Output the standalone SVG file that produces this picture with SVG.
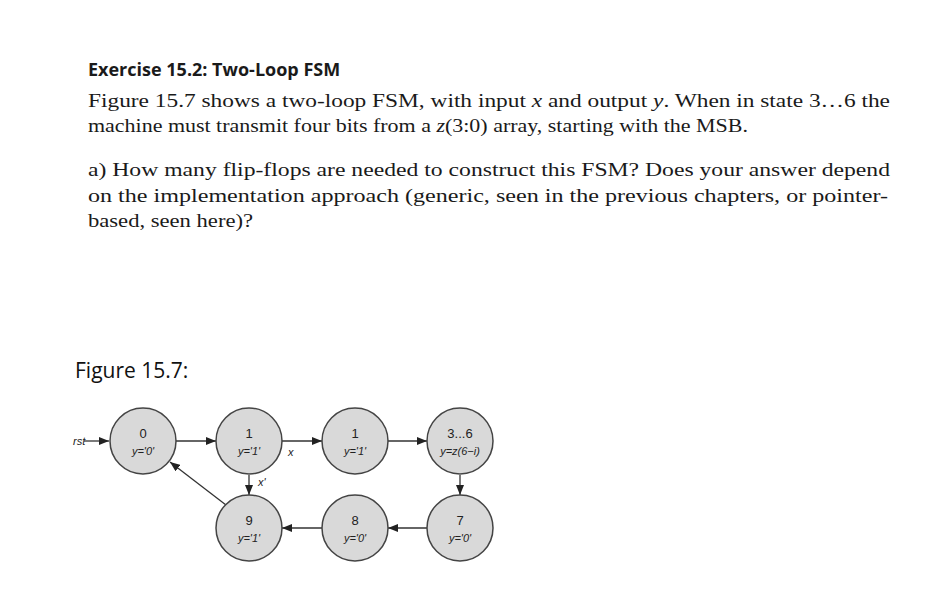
<svg xmlns="http://www.w3.org/2000/svg" width="942" height="592" viewBox="0 0 942 592">
<style>
.p{font-family:"Liberation Serif",serif;font-size:19px;fill:#1a1a1a}
.n circle{fill:#d9d9d9;stroke:#444;stroke-width:1.5}
.n text{font-family:"Liberation Sans",Arial,sans-serif;text-anchor:middle;fill:#222}
.num{font-size:13px}
.out{font-size:11px;font-style:italic}
.c line{stroke:#333;stroke-width:1.3;marker-end:url(#a)}
.lbl{font-family:"Liberation Sans",Arial,sans-serif;font-size:11px;font-style:italic;fill:#222}
</style>
<defs><marker id="a" markerWidth="10" markerHeight="8" refX="10" refY="4" orient="auto" markerUnits="userSpaceOnUse"><path d="M0,0L10,4L0,8z" fill="#222"/></marker></defs>
<rect width="942" height="592" fill="#fff"/>
<text x="88" y="76" font-family="Open Sans,Liberation Sans,sans-serif" font-weight="bold" font-size="18" fill="#1a1a1a">Exercise 15.2: Two-Loop FSM</text>
<text class="p" x="88" y="107" textLength="802" lengthAdjust="spacingAndGlyphs">Figure 15.7 shows a two-loop FSM, with input <tspan font-style="italic">x</tspan> and output <tspan font-style="italic">y</tspan>. When in state 3…6 the</text>
<text class="p" x="88" y="132" textLength="660" lengthAdjust="spacingAndGlyphs">machine must transmit four bits from a <tspan font-style="italic">z</tspan>(3:0) array, starting with the MSB.</text>
<text class="p" x="88" y="176" textLength="802" lengthAdjust="spacingAndGlyphs">a) How many flip-flops are needed to construct this FSM? Does your answer depend</text>
<text class="p" x="88" y="202" textLength="800" lengthAdjust="spacingAndGlyphs">on the implementation approach (generic, seen in the previous chapters, or pointer-</text>
<text class="p" x="88" y="227" textLength="165" lengthAdjust="spacingAndGlyphs">based, seen here)?</text>
<text x="75" y="378" font-family="Open Sans,Liberation Sans,sans-serif" font-size="21" fill="#111">Figure 15.7:</text>
<g class="c">
<line x1="84" y1="441" x2="109" y2="441"/>
<line x1="176" y1="441" x2="216" y2="441"/>
<line x1="282" y1="441" x2="322" y2="441"/>
<line x1="388" y1="441" x2="427" y2="441"/>
<line x1="249" y1="475" x2="249" y2="495"/>
<line x1="460" y1="475" x2="460" y2="495"/>
<line x1="427" y1="528" x2="388" y2="528"/>
<line x1="322" y1="528" x2="282" y2="528"/>
<line x1="226" y1="505" x2="170" y2="462"/>
<text class="lbl" x="73" y="445">rst</text>
<text class="lbl" x="288" y="456">x</text>
<text class="lbl" x="258" y="486">x'</text>
</g>
<g id="s0" class="n"><circle cx="143" cy="441" r="33"/><text class="num" x="143" y="438">0</text><text class="out" x="143" y="455">y='0'</text></g>
<g id="s1" class="n"><circle cx="249" cy="441" r="33"/><text class="num" x="249" y="438">1</text><text class="out" x="249" y="455">y='1'</text></g>
<g id="s2" class="n"><circle cx="355" cy="441" r="33"/><text class="num" x="355" y="438">1</text><text class="out" x="355" y="455">y='1'</text></g>
<g id="s3" class="n"><circle cx="460" cy="441" r="33"/><text class="num" x="460" y="438">3...6</text><text class="out" x="460" y="455">y=z(6−i)</text></g>
<g id="s9" class="n"><circle cx="249" cy="528" r="33"/><text class="num" x="249" y="525">9</text><text class="out" x="249" y="542">y='1'</text></g>
<g id="s8" class="n"><circle cx="355" cy="528" r="33"/><text class="num" x="355" y="525">8</text><text class="out" x="355" y="542">y='0'</text></g>
<g id="s7" class="n"><circle cx="460" cy="528" r="33"/><text class="num" x="460" y="525">7</text><text class="out" x="460" y="542">y='0'</text></g>
</svg>
